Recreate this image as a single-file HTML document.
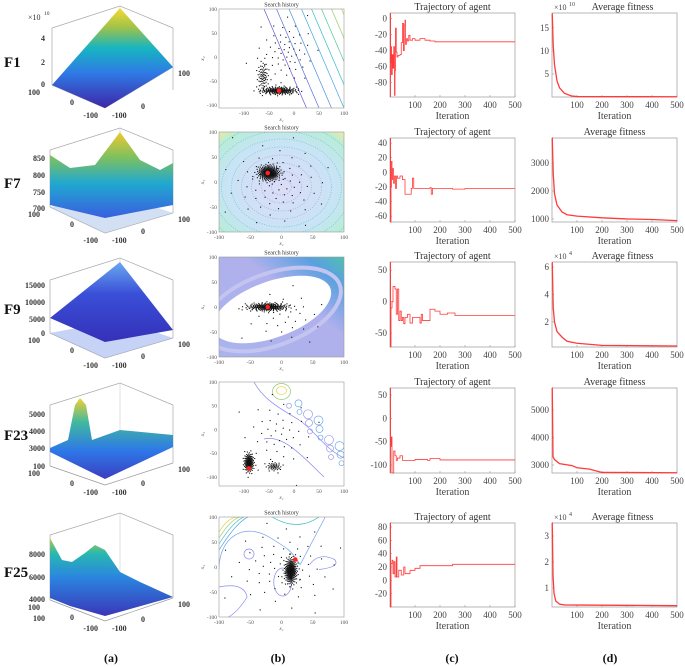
<!DOCTYPE html>
<html><head><meta charset="utf-8"><style>
body{margin:0;background:#fff}
svg{display:block;font-family:"Liberation Serif",serif}
</style></head><body>
<svg id="fig" width="685" height="667" viewBox="0 0 685 667">
<defs>
<linearGradient id="g1" x1="0" y1="1" x2="0" y2="0"><stop offset="0" stop-color="#3e26a8"/><stop offset=".35" stop-color="#2f7ae6"/><stop offset=".6" stop-color="#16b5c0"/><stop offset=".8" stop-color="#9cc24c"/><stop offset="1" stop-color="#f9d830"/></linearGradient>
<linearGradient id="g2" x1="0" y1="1" x2="0" y2="0"><stop offset="0" stop-color="#3a5ee0"/><stop offset=".4" stop-color="#20a8d0"/><stop offset=".7" stop-color="#7cc060"/><stop offset="1" stop-color="#f0c830"/></linearGradient>
<linearGradient id="g3" x1="0" y1="1" x2="0" y2="0"><stop offset="0" stop-color="#3530b8"/><stop offset=".6" stop-color="#3a4fd8"/><stop offset="1" stop-color="#6aa8f0"/></linearGradient>
<linearGradient id="g4" x1="0" y1="1" x2="0" y2="0"><stop offset="0" stop-color="#3a3ec0"/><stop offset=".35" stop-color="#2e78e8"/><stop offset=".7" stop-color="#40b8a0"/><stop offset="1" stop-color="#f2d030"/></linearGradient>
<linearGradient id="g5" x1="0" y1="1" x2="0" y2="0"><stop offset="0" stop-color="#3a36b8"/><stop offset=".5" stop-color="#2a86e0"/><stop offset=".8" stop-color="#28b8b0"/><stop offset="1" stop-color="#b8c840"/></linearGradient>
<radialGradient id="r2" cx=".5" cy=".55" r=".75"><stop offset="0" stop-color="#dcdcf6"/><stop offset=".6" stop-color="#c8e4f4"/><stop offset=".85" stop-color="#b8ecd8"/><stop offset="1" stop-color="#f0eaa0"/></radialGradient>
<linearGradient id="r3" x1="0" y1="1" x2="1" y2="0"><stop offset="0" stop-color="#a8b4ec"/><stop offset=".6" stop-color="#b0b0ec"/><stop offset=".85" stop-color="#5aa0e0"/><stop offset="1" stop-color="#50c0b0"/></linearGradient>
</defs>
</svg>
<script>
// ---- data: panel (c) trajectories [iteration, value] ----
const traj1 = [[1,5],[2,-55],[4,-35],[6,-70],[9,-45],[12,-62],[15,-35],[18,-96],[20,-65],[22,-12],[25,-42],[28,-48],[32,-46],[40,-45],[45,-30],[50,-6],[54,-40],[57,-8],[60,-2],[62,-32],[66,-25],[70,-28],[75,-21],[80,-27],[90,-25],[100,-27],[120,-25],[140,-27],[160,-28],[180,-29],[500,-29]];
const traj2 = [[1,46],[2,-68],[4,-20],[6,15],[8,-10],[10,5],[14,-15],[18,-5],[22,-22],[26,-5],[30,-8],[40,-5],[50,-10],[60,-30],[85,-22],[90,-8],[95,-22],[160,-21],[165,-30],[170,-22],[250,-23],[300,-22],[500,-22]];
const traj3 = [[1,62],[2,-72],[4,-10],[8,0],[12,24],[20,20],[25,-20],[30,20],[35,-30],[40,-15],[45,-30],[50,-25],[55,-35],[60,-25],[70,-20],[80,-34],[90,-25],[120,-34],[125,-20],[130,-30],[160,-12],[180,-15],[200,-20],[230,-18],[260,-22],[500,-22]];
const traj4 = [[1,65],[2,-60],[5,-40],[8,-117],[15,-70],[20,-80],[25,-90],[30,-85],[40,-80],[50,-90],[100,-88],[150,-90],[160,-86],[200,-89],[500,-89]];
const traj5 = [[1,86],[2,-40],[4,25],[8,30],[12,10],[16,28],[20,5],[25,35],[28,5],[35,15],[45,8],[55,20],[60,10],[80,15],[100,18],[120,22],[170,22],[250,24],[500,24]];
// ---- data: panel (d) average fitness [iteration, value] ----
const fit1 = [[1,18],[5,11],[10,7],[20,3.5],[30,2],[50,0.8],[80,0.2],[100,0.1],[500,0.05]];
const fit2 = [[1,3900],[5,2600],[10,1900],[20,1500],[40,1250],[60,1150],[100,1100],[200,1040],[300,1000],[400,980],[500,940]];
const fit3 = [[1,6.3],[5,3],[10,2],[20,1.3],[40,0.9],[60,0.6],[100,0.45],[200,0.3],[500,0.25]];
const fit4 = [[1,5800],[4,3300],[10,3200],[30,3050],[80,2980],[100,2900],[150,2850],[200,2730],[500,2720]];
const fit5 = [[1,3.5],[4,1.5],[8,0.8],[15,0.5],[30,0.38],[50,0.35],[500,0.32]];
// ---- tick labels ----
const iterTicks = [100,200,300,400,500];
const cTicks = [[0,-20,-40,-60,-80],[40,20,0,-20,-40,-60],[50,0,-50],[50,0,-50,-100],[80,60,40,20,0,-20]];
const dTicks = [[15,10,5],[3000,2000,1000],[6,4,2],[5000,4000,3000],[3,2,1]];
const dExp = ['10','','4','','4'];
// ---- data: panel (b) search history clusters [cx, cy, spreadX, spreadY, count] ----
const hist1 = [[-30,-70,18,4,220],[-62,-40,6,16,70],[-15,10,28,35,60]];
const hist2 = [[-20,18,9,8,260],[-5,-5,40,40,70]];
const hist3 = [[-22,0,16,4,260],[5,-20,35,28,35]];
const hist4 = [[-90,-70,5,10,160],[-40,-78,8,5,45],[-30,-10,35,40,45]];
const hist5 = [[15,-8,5,13,260],[5,0,45,45,70]];
const best = [[-30,-70],[-22,18],[-22,0],[-90,-82],[22,15]];

const svg = document.getElementById('fig');
const NS = 'http://www.w3.org/2000/svg';
function mk(tag, attrs, parent){const e=document.createElementNS(NS,tag);for(const k in attrs)e.setAttribute(k,attrs[k]);(parent||svg).appendChild(e);return e;}
function txt(x,y,s,size,opt){const e=mk('text',Object.assign({x:x,y:y,'font-size':size,fill:'#333'},opt||{}));e.textContent=s;return e;}

const rowsC = [{top:13,bot:97,ymax:7,ymin:-98},{top:138,bot:222,ymax:47,ymin:-68},{top:262,bot:347,ymax:63,ymin:-72},{top:388,bot:473,ymax:65,ymin:-117},{top:523,bot:607,ymax:86,ymin:-40}];
const rowsD = [{ymax:18.2,ymin:0},{ymax:3900,ymin:890},{ymax:6.36,ymin:0.18},{ymax:5800,ymin:2710},{ymax:3.5,ymin:0.27}];
const trajs=[traj1,traj2,traj3,traj4,traj5], fits=[fit1,fit2,fit3,fit4,fit5];

function linePlot(i, left, right, data, ymin, ymax, ticks, title, step, exp){
  const r=rowsC[i];
  const g=mk('g',{});
  
  
  const sx=v=>left+(v/500)*(right-left);
  const sy=v=>r.bot-(v-ymin)/(ymax-ymin)*(r.bot-r.top);
  const box=mk('rect',{x:left,y:r.top,width:right-left,height:r.bot-r.top,fill:'#fff',stroke:'#999','stroke-width':0.7},g);
  
  
  for(const t of iterTicks){
    const l=txt(sx(t),r.bot+11,String(t),9,{'text-anchor':'middle',fill:'#444'});g.appendChild(l);
    
    
    mk('line',{x1:sx(t),x2:sx(t),y1:r.bot,y2:r.bot-2,stroke:'#999','stroke-width':0.6},g);
  }
  for(const t of ticks){
    const l=txt(left-3,sy(t)+3,String(t),9,{'text-anchor':'end',fill:'#444'});g.appendChild(l);
    
    
    mk('line',{x1:left,x2:left+2,y1:sy(t),y2:sy(t),stroke:'#999','stroke-width':0.6},g);
  }
  const xl=txt((left+right)/2,r.bot+22,'Iteration',10,{'text-anchor':'middle',fill:'#444'});g.appendChild(xl);
  
  
  const tl=txt((left+right)/2+(exp?8:0),r.top-3,title,10,{'text-anchor':'middle',fill:'#333'});g.appendChild(tl);
  
  
  if(exp){const ex=txt(left+2,r.top-3,'×10',8,{fill:'#444'});g.appendChild(ex);
    
    
    const sp=txt(left+17,r.top-7,exp,6,{fill:'#444'});g.appendChild(sp);}
  let d='M'+left+','+sy(data[0][1]);
  for(let k=0;k<data.length;k++){
    const p=data[k];
    if(step&&k>0) d+=' L'+sx(p[0])+','+sy(data[k-1][1]);
    d+=' L'+sx(p[0])+','+sy(p[1]);
  }
  const path=mk('path',{d:d,fill:'none',stroke:'#ff3a3a','stroke-width':step?0.8:1.3},g);
  
  
  if(step){const v=mk('line',{x1:left+0.5,x2:left+0.5,y1:r.top,y2:r.bot,stroke:'#ff3a3a','stroke-width':0.9},g);
    
    }
}
for(let i=0;i<5;i++){
  linePlot(i,390,515,trajs[i],rowsC[i].ymin,rowsC[i].ymax,cTicks[i],'Trajectory of agent',true,'');
  linePlot(i,552,677,fits[i],rowsD[i].ymin,rowsD[i].ymax,dTicks[i],'Average fitness',false,dExp[i]);
}

// ---- (b) search history ----
const rowsB=[{top:9,bot:108,xmin:-150,ymin:-106},{top:132,bot:232,xmin:-100,ymin:-100},{top:257,bot:357,xmin:-100,ymin:-100},{top:382,bot:486,xmin:-150,ymin:-119},{top:517,bot:617,xmin:-100,ymin:-100}];
const hists=[hist1,hist2,hist3,hist4,hist5];
const BL=219,BR=344;
for(let i=0;i<5;i++){
  const r=rowsB[i];
  const g=mk('g',{});
  
  
  const sx=v=>BL+(v-r.xmin)/(100-r.xmin)*(BR-BL);
  const sy=v=>r.bot-(v-r.ymin)/(100-r.ymin)*(r.bot-r.top);
  const clip=mk('clipPath',{id:'cb'+i},svg.querySelector('defs'));
  mk('rect',{x:BL,y:r.top,width:BR-BL,height:r.bot-r.top},clip);
  const cg=mk('g',{'clip-path':'url(#cb'+i+')'},g);
  
  
  if(i===0){
    const cols=['#6a5ad8','#5a70e0','#4c8ce6','#3ea8e0','#30bcc8','#50c898','#9ccc60','#d8c840','#f0c040'];
    const tops=[-60,-35,-10,15,35,55,75,95,115];
    tops.forEach((t,k)=>mk('line',{x1:sx(t),y1:sy(100),x2:sx(t+85),y2:sy(-106),stroke:cols[k],'stroke-width':0.7},cg));
  } else if(i===1){
    mk('rect',{x:BL,y:r.top,width:BR-BL,height:r.bot-r.top,fill:'url(#r2)'},cg);
    for(let k=1;k<9;k++) mk('ellipse',{cx:sx(0),cy:sy(-10),rx:k*10,ry:k*8,fill:'none',stroke:k<5?'#a8a8ec':'#70c8e0','stroke-width':0.8,'stroke-dasharray':'1 1.5'},cg);
  } else if(i===2){
    mk('rect',{x:BL,y:r.top,width:BR-BL,height:r.bot-r.top,fill:'url(#r3)'},cg);
    mk('ellipse',{cx:sx(-15),cy:sy(-5),rx:62,ry:28,fill:'#fff',transform:'rotate(-20 '+sx(-15)+' '+sy(-5)+')'},cg);
    mk('ellipse',{cx:sx(-15),cy:sy(-5),rx:72,ry:36,fill:'none',stroke:'#c4c4f0','stroke-width':4,transform:'rotate(-20 '+sx(-15)+' '+sy(-5)+')'},cg);
  } else if(i===3){
    mk('path',{d:'M'+sx(-80)+','+sy(100)+' C'+sx(-60)+','+sy(60)+' '+sx(-20)+','+sy(40)+' '+sx(10)+','+sy(20)+' S'+sx(60)+','+sy(-40)+' '+sx(100)+','+sy(-60),fill:'none',stroke:'#8a8aee','stroke-width':0.7},cg);
    mk('ellipse',{cx:sx(-25),cy:sy(80),rx:9,ry:8,fill:'none',stroke:'#90c870','stroke-width':0.7},cg);
    mk('ellipse',{cx:sx(-25),cy:sy(82),rx:5,ry:4,fill:'none',stroke:'#e8d040','stroke-width':0.7},cg);
    for(let k=0;k<16;k++){const a=-10+k*7,b=50-k*9;
      mk('circle',{cx:sx(a+(k%3)*12),cy:sy(b+(k%2)*14),r:2.5+(k%3),fill:'none',stroke:k%2?'#70a8ee':'#9a9aee','stroke-width':0.7},cg);}
    mk('path',{d:'M'+sx(-60)+','+sy(-20)+' C'+sx(-20)+','+sy(-10)+' '+sx(20)+','+sy(-60)+' '+sx(60)+','+sy(-100),fill:'none',stroke:'#8a8aee','stroke-width':0.7},cg);
  } else {
    const c=['#e8d040','#9cd070','#50c0c0','#50a0e0'];
    c.forEach((col,k)=>mk('path',{d:'M'+sx(-100)+','+sy(70-k*12)+' Q'+sx(-85+k*6)+','+sy(100)+' '+sx(-70+k*8)+','+sy(100+k),fill:'none',stroke:col,'stroke-width':0.7},cg));
    mk('path',{d:'M'+sx(-15)+','+sy(100)+' Q'+sx(25)+','+sy(70)+' '+sx(60)+','+sy(100),fill:'none',stroke:'#40c0c0','stroke-width':0.7},cg);
    mk('path',{d:'M'+sx(-100)+','+sy(-5)+' C'+sx(-100)+','+sy(60)+' '+sx(-60)+','+sy(90)+' '+sx(-20)+','+sy(60)+' S'+sx(15)+','+sy(30)+' '+sx(30)+','+sy(5)+' L'+sx(70)+','+sy(100),fill:'none',stroke:'#70a0ec','stroke-width':0.7},cg);
    mk('ellipse',{cx:sx(-52),cy:sy(26),rx:5,ry:5,fill:'none',stroke:'#8a8aee','stroke-width':0.7},cg);
    mk('ellipse',{cx:sx(2),cy:sy(-30),rx:9,ry:14,fill:'none',stroke:'#8a8aee','stroke-width':0.7},cg);
    mk('path',{d:'M'+sx(-100)+','+sy(-40)+' Q'+sx(-60)+','+sy(-30)+' '+sx(-55)+','+sy(-60)+' Q'+sx(-70)+','+sy(-90)+' '+sx(-85)+','+sy(-100),fill:'none',stroke:'#8a8aee','stroke-width':0.7},cg);
    mk('path',{d:'M'+sx(45)+','+sy(5)+' Q'+sx(60)+','+sy(30)+' '+sx(85)+','+sy(15)+' Q'+sx(95)+','+sy(0)+' '+sx(60)+','+sy(-5),fill:'none',stroke:'#8a8aee','stroke-width':0.7},cg);
  }
  // scatter points (deterministic gaussian-like radial layout)
  for(const c of hists[i]){
    const [cx,cy,spx,spy,n]=c;
    for(let k=0;k<n;k++){
      const u=(k+0.5)/n;
      const rr=Math.sqrt(-2*Math.log(1-u*0.995)), a=k*2.39996;
      const px=sx(cx+rr*Math.cos(a)*spx), py=sy(cy+rr*Math.sin(a)*spy);
      const p=mk('rect',{x:px-0.55,y:py-0.55,width:1.1,height:1.1,fill:'#111'},cg);
      
      
    }
  }
  const bp=mk('circle',{cx:sx(best[i][0]),cy:sy(best[i][1]),r:2.3,fill:'#ff2020'},cg);
  
  
  mk('rect',{x:BL,y:r.top,width:BR-BL,height:r.bot-r.top,fill:'none',stroke:'#999','stroke-width':0.6},g);
  for(const t of [-100,-50,0,50,100]){const l=txt(sx(t),r.bot+7,String(t),5.5,{'text-anchor':'middle',fill:'#555'});g.appendChild(l);
    
    }
  for(const t of [100,50,0,-50,-100]){const l=txt(BL-2,sy(t)+2,String(t),5.5,{'text-anchor':'end',fill:'#555'});g.appendChild(l);
    
    }
  if(i!==3){const tt=txt((BL+BR)/2,r.top-2.5,'Search history',6,{'text-anchor':'middle',fill:'#333'});g.appendChild(tt);
    
    }
  const x1=txt((BL+BR)/2,r.bot+13,'x₁',5.5,{'text-anchor':'middle','font-style':'italic',fill:'#555'});g.appendChild(x1);
  
  
  const yl=(r.top+r.bot)/2;
  const x2=txt(BL-15,yl,'x₂',5.5,{'text-anchor':'middle','font-style':'italic',fill:'#555',transform:'rotate(-90 '+(BL-15)+' '+yl+')'});g.appendChild(x2);
  
  
}

// ---- (a) 3D surfaces ----
const surf=[
 {name:'F1',ly:67,frame:[[52,28],[120,6],[173,28]],vx:120,vb:95,rb:90,poly:'52,85 120,8 173,67 105,108',fill:'url(#g1)',
  zl:[['4',38],['2',62],['0',84]],ex:true,floor:'',fb:[85,108,67]},
 {name:'F7',ly:188,frame:[[50,150],[120,128],[173,150]],vx:120,vb:195,rb:213,poly:'50,155 70,168 95,165 120,132 140,160 160,170 173,163 173,205 105,218 50,205',fill:'url(#g2)',
  zl:[['850',158],['800',175],['750',192],['700',208]],floor:'50,207 120,195 173,213 105,233',floorFill:'#c8d8f0',fb:[207,233,213]},
 {name:'F9',ly:314,frame:[[50,280],[120,258],[173,280]],vx:120,vb:320,rb:338,poly:'50,318 120,262 173,330 105,342',fill:'url(#g3)',
  zl:[['15000',285],['10000',302],['5000',319],['0',333]],floor:'50,333 120,320 173,338 105,358',floorFill:'#b8c8f4',fb:[333,358,338]},
 {name:'F23',ly:440,frame:[[50,405],[120,383],[173,405]],vx:120,vb:445,rb:463,poly:'50,448 68,440 75,405 80,398 86,405 92,440 120,430 173,435 173,447 105,479 50,452',fill:'url(#g4)',
  zl:[['5000',414],['4000',431],['3000',448],['100',466]],floor:'',fb:[466,485,463]},
 {name:'F25',ly:577,frame:[[50,535],[120,513],[173,535]],vx:120,vb:580,rb:598,poly:'50,538 62,560 72,562 85,553 95,545 105,550 120,572 140,582 173,597 105,616 70,606 50,598',fill:'url(#g5)',
  zl:[['8000',554],['6000',577],['4000',599],['100',618]],floor:'',fb:[600,621,598]}
];
surf.forEach((s,i)=>{
  const g=mk('g',{});
  
  
  const f=s.frame;
  mk('polyline',{points:f.map(p=>p.join(',')).join(' '),fill:'none',stroke:'#aaa','stroke-width':0.7},g);
  mk('line',{x1:f[0][0],y1:f[0][1],x2:f[0][0],y2:s.fb[0],stroke:'#aaa','stroke-width':0.7},g);
  mk('line',{x1:f[1][0],y1:f[1][1],x2:f[1][0],y2:s.vb,stroke:'#ccc','stroke-width':0.6},g);
  mk('line',{x1:f[2][0],y1:f[2][1],x2:f[2][0],y2:s.rb,stroke:'#aaa','stroke-width':0.7},g);
  mk('line',{x1:f[0][0],y1:s.fb[0],x2:105,y2:s.fb[1],stroke:'#999','stroke-width':0.7},g);
  mk('line',{x1:105,y1:s.fb[1],x2:f[2][0],y2:s.fb[2],stroke:'#999','stroke-width':0.7},g);
  if(s.floor){const fl=mk('polygon',{points:s.floor,fill:s.floorFill,opacity:0.8},g);
    
    }
  const p=mk('polygon',{points:s.poly,fill:s.fill},g);
  
  
  for(const z of s.zl){const l=txt(45,z[1]+3,z[0],8,{'text-anchor':'end','font-weight':'bold',fill:'#333'});g.appendChild(l);
    
    }
  const b=s.fb;
  const lbls=[['100',40,b[0]+10,'end'],['0',72,b[0]+20,'middle'],['-100',98,b[1]+10,'end'],['-100',112,b[1]+10,'start'],['0',143,b[1]+1,'middle'],['100',178,b[2]+9,'start']];
  for(const q of lbls){const l=txt(q[1],q[2],q[0],8,{'text-anchor':q[3],'font-weight':'bold',fill:'#333'});g.appendChild(l);
    
    }
  if(s.ex){const e=txt(28,20,'×10',8,{fill:'#333'});g.appendChild(e);const e2=txt(44,15,'10',5.5,{fill:'#333'});g.appendChild(e2);}
  const rl=txt(4,s.ly,s.name,15,{'font-weight':'bold',fill:'#111'});
  
  
});

// ---- column labels ----
[['(a)',111],['(b)',278],['(c)',452],['(d)',610]].forEach(c=>{
  const l=txt(c[1],662,c[0],12,{'text-anchor':'middle','font-weight':'bold',fill:'#111'});
  
  
});
</script>
</body></html>
